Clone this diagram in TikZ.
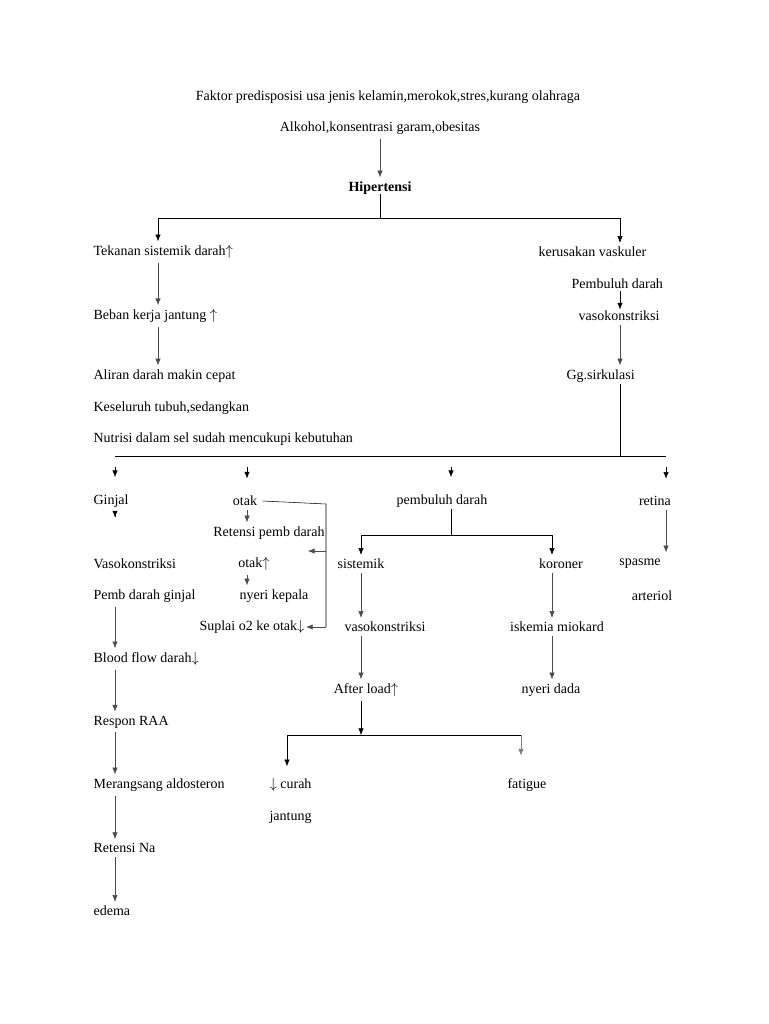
\documentclass[tikz,border=0pt]{standalone}
\usepackage{fontspec}
\setmainfont{Liberation Serif}
\usetikzlibrary{arrows.meta}
\begin{document}
\begin{tikzpicture}[x=0.75pt,y=-0.75pt,
  txt/.style={inner sep=1pt,font=\fontsize{10.5}{12}\selectfont},
  lt/.style={txt,anchor=west},
  arr/.style={-{Latex[length=5pt,width=4pt]},gray!60!black,thin,shorten <=2pt,shorten >=2pt},
  ln/.style={black,thin}]
  \useasboundingbox (0,0) rectangle (768,1024);
  % column guides
  \coordinate (cT) at (380,0);
  \coordinate (cL) at (158,0);
  \coordinate (cR) at (620,0);
  \coordinate (cG) at (115,0);
  \coordinate (cO) at (247,0);
  \coordinate (cP) at (451,0);
  \coordinate (cRt) at (666,0);
  \coordinate (cS) at (361,0);
  \coordinate (cK) at (552,0);
  \coordinate (cB) at (326,0);
  \coordinate (cC) at (287,0);
  \coordinate (cF) at (521,0);

  % top
  \node[txt] (fak) at (388,97) {Faktor predisposisi usa jenis kelamin,merokok,stres,kurang olahraga};
  \node[txt] (alk) at (380,128) {Alkohol,konsentrasi garam,obesitas};
  \node[txt,font=\fontsize{10.5}{12}\selectfont\bfseries] (hip) at (380,188) {Hipertensi};
  \draw[arr] (alk.south -| cT) -- (hip.north -| cT);

  % left branch
  \node[lt] (tek) at (92,252) {Tekanan sistemik darah$\uparrow$};
  \node[lt] (beb) at (92,316) {Beban kerja jantung $\uparrow$};
  \node[lt] (ali) at (92,376) {Aliran darah makin cepat};
  \node[lt] (kes) at (92,408) {Keseluruh tubuh,sedangkan};
  \node[lt] (nut) at (92,439) {Nutrisi dalam sel sudah mencukupi kebutuhan};

  % right branch
  \node[lt] (ker) at (537,252) {kerusakan vaskuler};
  \node[lt] (pem) at (570,284) {Pembuluh darah};
  \node[lt] (vas) at (577,316) {vasokonstriksi};
  \node[lt] (ggs) at (565,376) {Gg.sirkulasi};

  \coordinate (j1) at (380,218);
  \draw[ln] (hip.south -| cT) ++(0,-2) -- (j1);
  \draw[ln] (j1 -| cL) -- (j1 -| cR);
  \draw[arr,black,shorten <=0pt] (j1 -| cL) -- (tek.north -| cL);
  \draw[arr,black,shorten <=0pt] (j1 -| cR) -- (ker.north -| cR);
  \draw[arr] (tek.south -| cL) -- (beb.north -| cL);
  \draw[arr] (beb.south -| cL) -- (ali.north -| cL);
  \draw[arr,black,shorten <=0pt,shorten >=0pt] (pem.south -| cR) -- (vas.north -| cR);
  \draw[arr] (vas.south -| cR) -- (ggs.north -| cR);

  % second level
  \coordinate (j2) at (620,456);
  \draw[ln] (ggs.south -| cR) -- (j2);
  \draw[ln] (j2 -| cG) -- (j2 -| cRt);
  \node[lt] (gin) at (92,501) {Ginjal};
  \node[txt] (otk) at (245,501) {otak};
  \node[txt] (pbd) at (442,501) {pembuluh darah};
  \node[txt] (ret) at (655,501) {retina};
  \foreach \c/\n in {cG/gin,cO/otk,cP/pbd,cRt/ret}
    \draw[arr,black,shorten <=8pt,shorten >=12pt] (j2 -| \c) -- (\n.north -| \c);

  % ginjal column
  \node[lt] (vko) at (92,564) {Vasokonstriksi};
  \node[lt] (pdg) at (92,596) {Pemb darah ginjal};
  \node[lt] (blf) at (92,659) {Blood flow darah$\downarrow$};
  \node[lt] (raa) at (92,722) {Respon RAA};
  \node[lt] (ald) at (92,785) {Merangsang aldosteron};
  \node[lt] (rna) at (92,848) {Retensi Na};
  \node[lt] (ede) at (92,911) {edema};
  \draw[arr,black,shorten <=6pt,shorten >=30pt] (gin.south -| cG) -- (vko.north -| cG);
  \draw[arr] (pdg.south -| cG) -- (blf.north -| cG);
  \draw[arr] (blf.south -| cG) -- (raa.north -| cG);
  \draw[arr] (raa.south -| cG) -- (ald.north -| cG);
  \draw[arr] (ald.south -| cG) -- (rna.north -| cG);
  \draw[arr] (rna.south -| cG) -- (ede.north -| cG);

  % otak column
  \node[txt] (rpd) at (269,533) {Retensi pemb darah};
  \node[txt] (otu) at (254,564) {otak$\uparrow$};
  \node[txt] (nyk) at (274,596) {nyeri kepala};
  \node[txt] (sup) at (252,627) {Suplai o2 ke otak$\downarrow$};
  \draw[arr] (otk.south -| cO) -- (rpd.north -| cO);
  \draw[arr] (otu.south -| cO) -- (nyk.north -| cO);
  \coordinate (b1) at (326,504);
  \coordinate (b2) at (326,551);
  \draw[ln] (otk.east) ++(4,0) -- (b1) -- (sup.east -| cB);
  \draw[arr,shorten <=0pt,shorten >=0pt] (b2) -- ++(-18,0);
  \draw[arr,shorten <=0pt,shorten >=0pt] (sup.east -| cB) -- (sup.east);

  % pembuluh darah column
  \coordinate (j3) at (451,535);
  \draw[ln] (pbd.south -| cP) -- (j3);
  \draw[ln] (j3 -| cS) -- (j3 -| cK);
  \node[txt] (sis) at (361,564) {sistemik};
  \node[txt] (kor) at (561,564) {koroner};
  \node[txt] (vsk) at (385,627) {vasokonstriksi};
  \node[txt] (aft) at (366,690) {After load$\uparrow$};
  \node[txt] (isk) at (557,627) {iskemia miokard};
  \node[txt] (nyd) at (551,690) {nyeri dada};
  \draw[arr,black,shorten <=0pt] (j3 -| cS) -- (sis.north -| cS);
  \draw[arr,black,shorten <=0pt] (j3 -| cK) -- (kor.north -| cK);
  \draw[arr] (sis.south -| cS) -- (vsk.north -| cS);
  \draw[arr] (vsk.south -| cS) -- (aft.north -| cS);
  \draw[arr] (kor.south -| cK) -- (isk.north -| cK);
  \draw[arr] (isk.south -| cK) -- (nyd.north -| cK);

  % after load split
  \coordinate (j4) at (361,735);
  \draw[arr,black,shorten >=0pt] (aft.south -| cS) -- (j4);
  \draw[ln] (j4 -| cC) -- (j4 -| cF);
  \node[lt] (cur) at (268,785) {$\downarrow$ curah};
  \node[lt] (jan) at (268,817) {jantung};
  \node[txt] (fat) at (527,785) {fatigue};
  \draw[arr,black,shorten <=0pt,shorten >=8pt] (j4 -| cC) -- (cur.north -| cC);
  \draw[arr,gray,shorten <=0pt,shorten >=16pt] (j4 -| cF) -- (fat.north -| cF);

  % retina column
  \node[txt] (spa) at (640,564) {spasme};
  \node[txt] (art) at (652,596) {arteriol};
  \draw[arr,shorten >=4pt] (ret.south -| cRt) -- (spa.north -| cRt);
\end{tikzpicture}
\end{document}
